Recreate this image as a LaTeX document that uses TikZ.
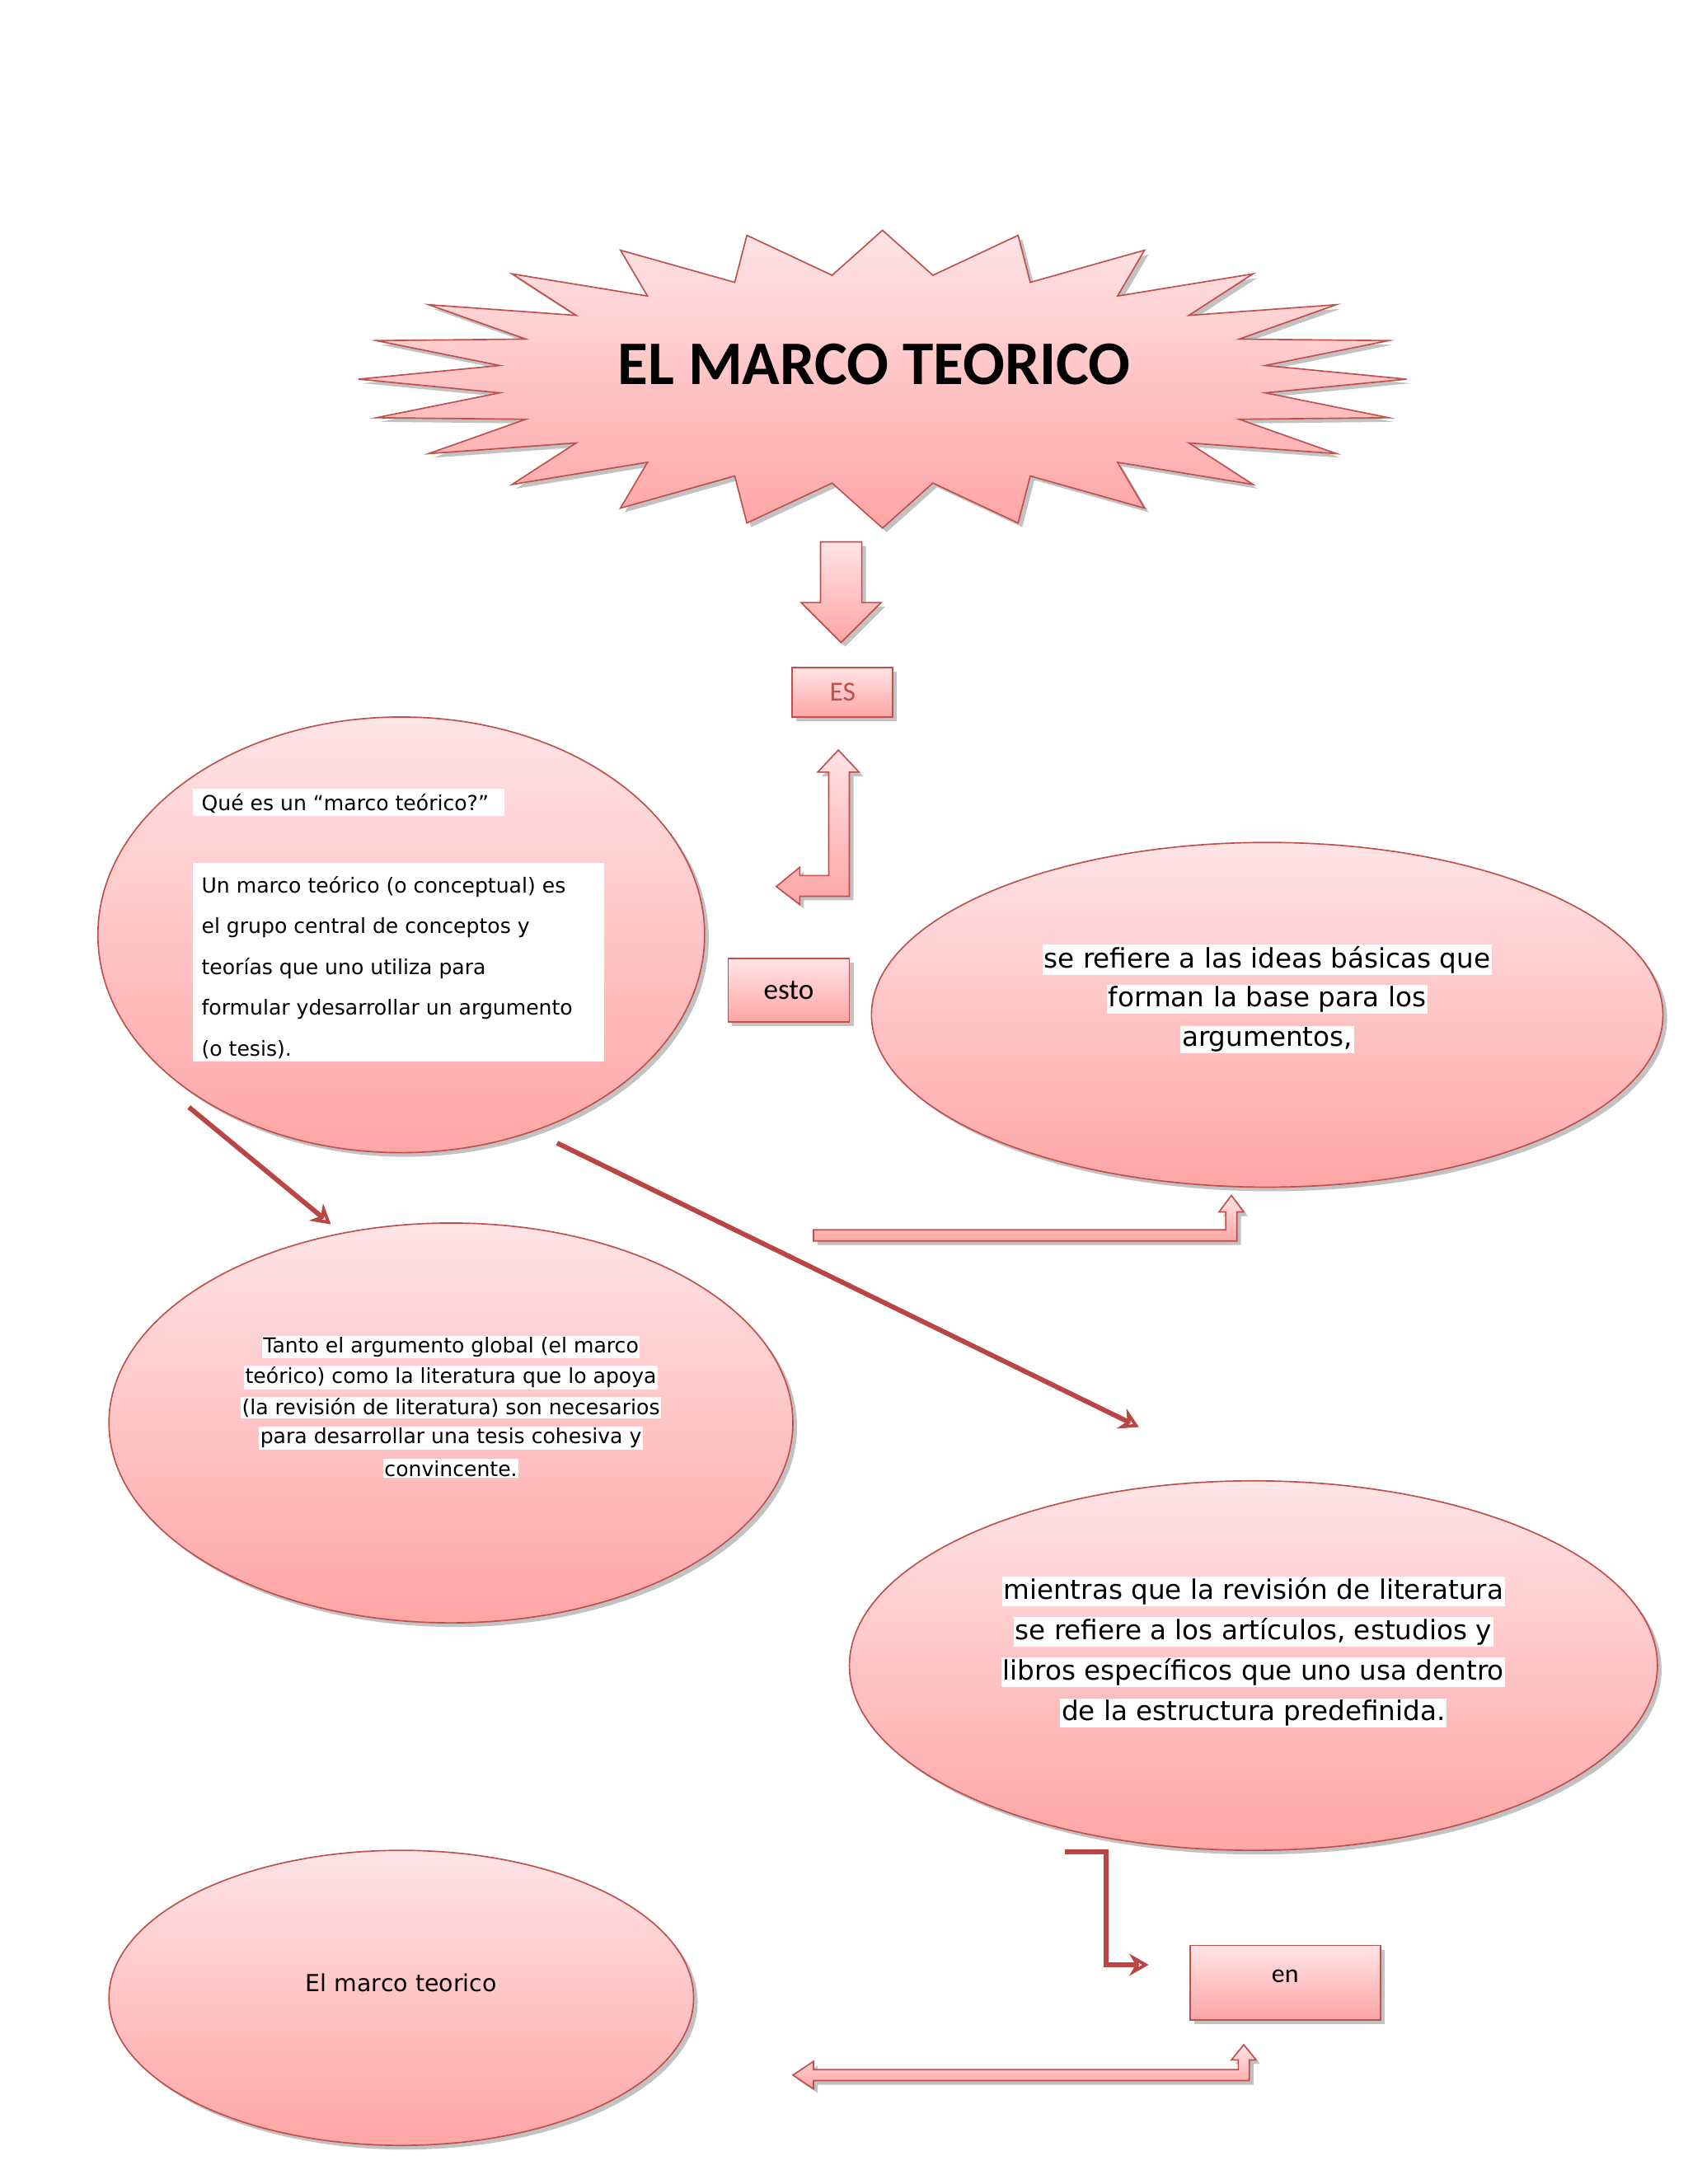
\documentclass[tikz,border=0pt]{standalone}
\usepackage{fontspec}
\setmainfont{DejaVu Sans}
\newfontfamily\calfam{Carlito}
\usetikzlibrary{arrows.meta,shadows,shapes.geometric}
\definecolor{edge}{RGB}{192,80,77}
\definecolor{dk}{RGB}{185,70,68}
\definecolor{ltop}{RGB}{255,228,230}
\definecolor{lbot}{RGB}{255,165,165}
\tikzset{
 pinkfill/.style={top color=ltop,bottom color=lbot,draw=edge,line width=1pt,
   drop shadow={shadow xshift=3pt,shadow yshift=-3pt,fill=black!40,opacity=.6}},
 ell/.style={pinkfill,ellipse},
 tl/.style={fill=white,inner sep=1pt,font=\fontsize{15}{17}\selectfont},
 bl/.style={fill=white,inner sep=1pt,font=\fontsize{19.5}{22}\selectfont},
 ln/.style={draw=dk,line width=3.5pt,-{Stealth[length=14pt,width=16pt,open]}},
}
\begin{document}
\begin{tikzpicture}[x=1pt,y=-1pt]
\useasboundingbox (0,0) rectangle (1224,1584);
% starburst
\path[pinkfill] (640+380,275) \foreach \i in {1,...,47}{ -- ({640+(mod(\i,2)==0?380:280)*cos(\i*7.5)},{275+(mod(\i,2)==0?108:76)*sin(\i*7.5)}) } -- cycle;
\node[font=\calfam\bfseries\fontsize{45}{50}\selectfont] (title) at (634,264) {EL MARCO TEORICO};
% down arrow
\path[pinkfill] (595,393) -- (625,393) -- (625,437) -- (639,437) -- (610,466) -- (581,437) -- (595,437) -- cycle;
\node[pinkfill,minimum width=73pt,minimum height=36pt,text=edge,font=\calfam\fontsize{20}{22}\selectfont] (es) at (611,502) {ES};
% bent arrow up-left
\path[pinkfill] (608,544) -- (623,560) -- (616,560) -- (616,650) -- (580,650) -- (580,656) -- (563,643) -- (580,629) -- (580,635) -- (601,635) -- (601,560) -- (593,560) -- cycle;
\node[pinkfill,minimum width=88pt,minimum height=46pt,font=\calfam\fontsize{21}{24}\selectfont] (esto) at (572,718) {esto};
% ellipses
\node[ell,minimum width=440pt,minimum height=316pt] (e1) at (291,678) {};
\node[ell,minimum width=574pt,minimum height=250pt] (e2) at (919,736) {};
\node[ell,minimum width=496pt,minimum height=290pt] (e3) at (327,1032) {};
\node[ell,minimum width=586pt,minimum height=268pt] (e4) at (909,1208) {};
\node[ell,minimum width=424pt,minimum height=214pt] (e5) at (291,1449) {};
% e1 text
\fill[white] (140,572) rectangle (366,592);
\node[anchor=west,inner sep=0pt,font=\fontsize{15}{17}\selectfont] (q1) at (146,583) {Qué es un “marco teórico?”};
\fill[white] (140,626) rectangle (438,770);
\foreach \t [count=\k] in {Un marco teórico (o conceptual) es,el grupo central de conceptos y,teorías que uno utiliza para,formular ydesarrollar un argumento,(o tesis).}
  \node[anchor=west,inner sep=0pt,font=\fontsize{15}{17}\selectfont] at (146,614+\k*29.5) {\t};
% e2 text
\foreach \t [count=\k] in {se refiere a las ideas básicas que,forman la base para los,{argumentos, }}
  \node[bl] at (919,667+\k*29) {\t};
% e3 text
\foreach \t [count=\k] in {Tanto el argumento global (el marco,teórico) como la literatura que lo apoya,(la revisión de literatura) son necesarios,para desarrollar una tesis cohesiva y,convincente.}
  \node[tl] at (327,955+\k*22) {\t};
% e4 text
\foreach \t [count=\k] in {mientras que la revisión de literatura,{se refiere a los artículos, estudios y},libros específicos que uno usa dentro,de la estructura predefinida.}
  \node[bl] at (909,1125+\k*29.3) {\t};
\node[font=\fontsize{17}{19}\selectfont] (t5) at (291,1438) {El marco teorico};
% lines
\coordinate (a1) at (137,803); \coordinate (a2) at (240,888);
\draw[ln] (a1) -- (a2);
\coordinate (b1) at (404,829); \coordinate (b2) at (826,1035);
\draw[ln] (b1) -- (b2);
% bent arrow to e2
\path[pinkfill] (590,892) -- (889,892) -- (889,879) -- (884,879) -- (893,867) -- (902,879) -- (897,879) -- (897,900) -- (590,900) -- cycle;
% en
\node[pinkfill,minimum width=138pt,minimum height=54pt] (en) at (932,1438) {};
\node[font=\calfam\fontsize{19}{22}\selectfont] (ent) at (932,1433) {en};
\coordinate (c1) at (772,1343); \coordinate (c2) at (833,1425);
\draw[ln] (c1) -- (802,1343) -- (802,1425) -- (c2);
% bottom bent arrow
\path[pinkfill] (575,1505) -- (590,1495) -- (590,1501) -- (898,1501) -- (898,1494) -- (893,1494) -- (902,1483) -- (911,1494) -- (906,1494) -- (906,1509) -- (590,1509) -- (590,1515) -- cycle;
\end{tikzpicture}
\end{document}
